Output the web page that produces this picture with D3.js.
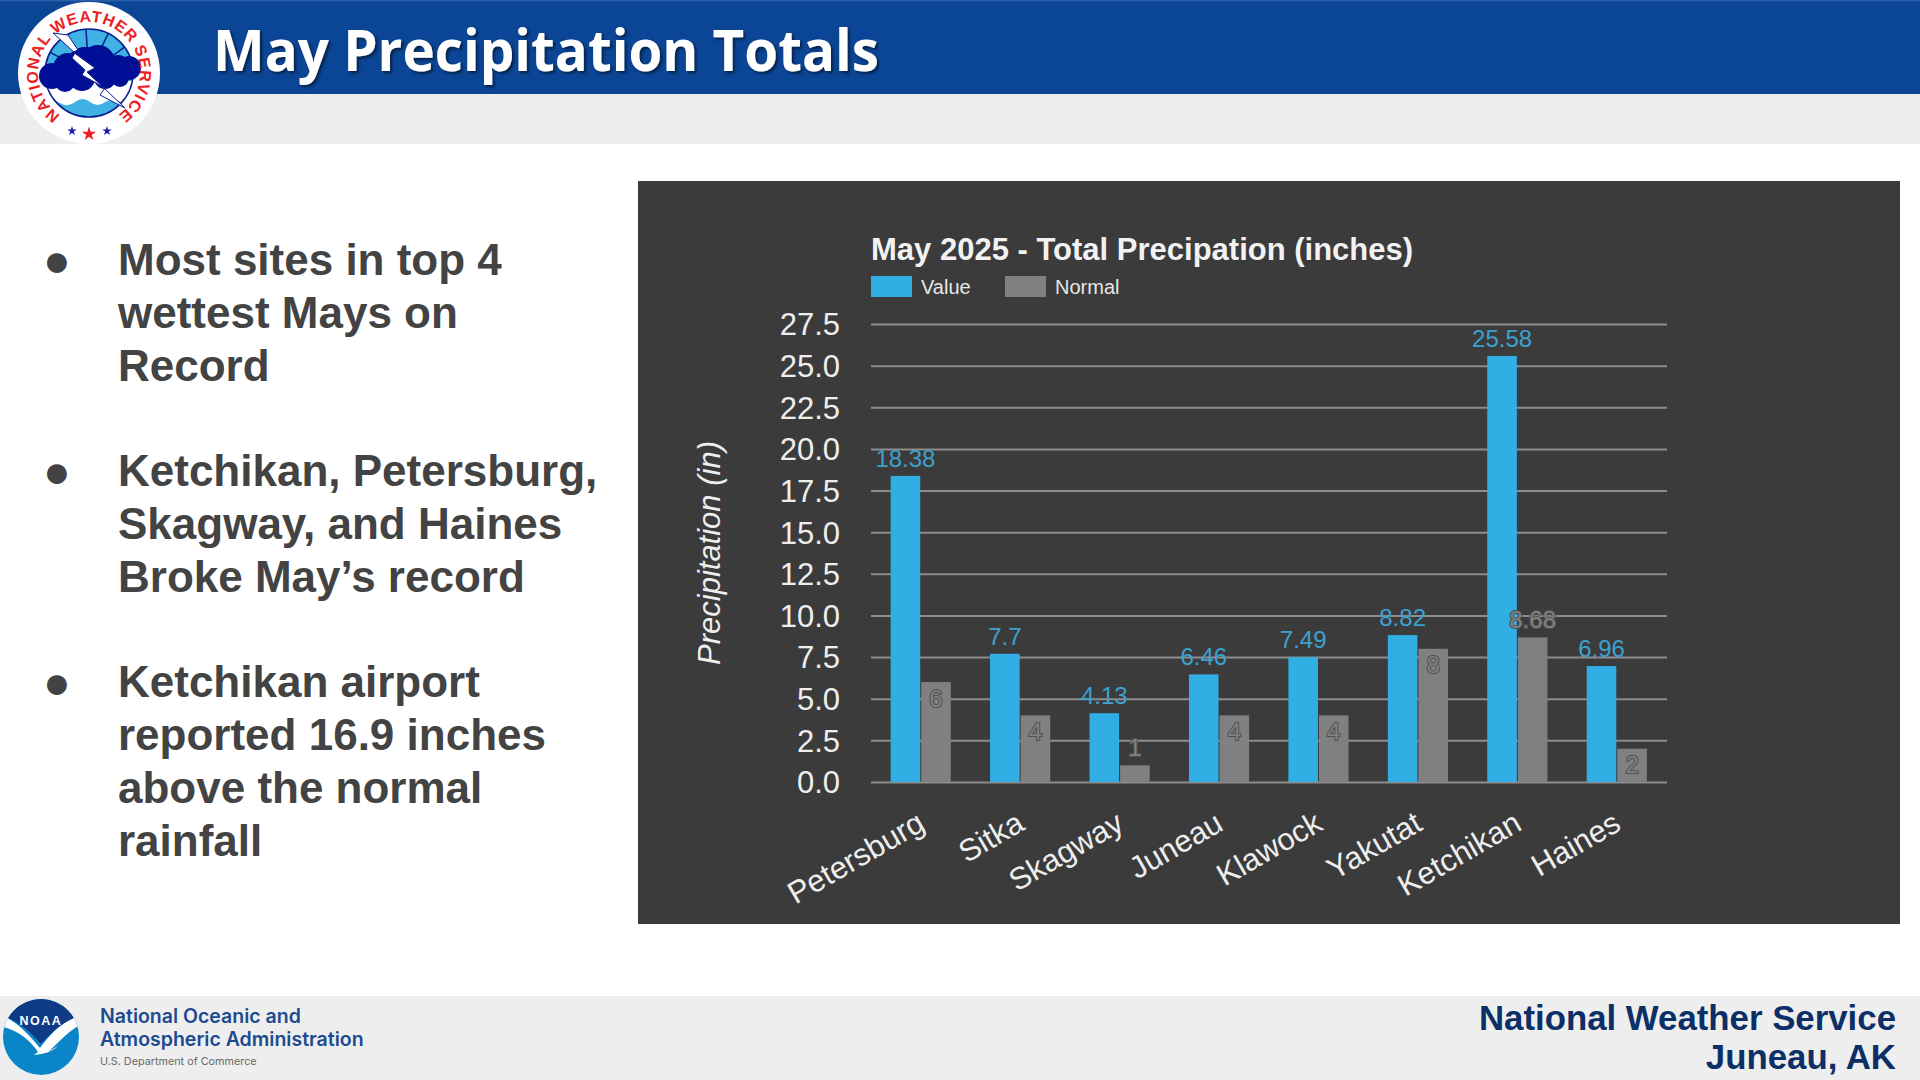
<!DOCTYPE html>
<html>
<head>
<meta charset="utf-8">
<script src="https://cdn.jsdelivr.net/npm/d3@7"></script>
<style>
  html, body { margin: 0; padding: 0; background: #fff; }
  svg { display: block; }
  text { font-family: "Liberation Sans", Arial, sans-serif; }
</style>
</head>
<body>
<div id="slide"></div>
<script>
var categories = ["Petersburg", "Sitka", "Skagway", "Juneau", "Klawock", "Yakutat", "Ketchikan", "Haines"];
var seriesNames = ["Value", "Normal"];
var valueSeries = [18.38, 7.7, 4.13, 6.46, 7.49, 8.82, 25.58, 6.96];
var normalSeries = [6, 4, 1, 4, 4, 8, 8.68, 2];
var yTicks = [0, 2.5, 5, 7.5, 10, 12.5, 15, 17.5, 20, 22.5, 25, 27.5];
var seriesColors = ["#31aee4", "#808080"];
var labelColors = ["#3ba2cf", "#808080"];

var bullets = [
  ["Most sites in top 4", "wettest Mays on", "Record"],
  ["Ketchikan, Petersburg,", "Skagway, and Haines", "Broke May\u2019s record"],
  ["Ketchikan airport", "reported 16.9 inches", "above the normal", "rainfall"]
];
var bulletBaselines = [
  [275, 328, 381],
  [486, 539, 592],
  [697, 750, 803, 856]
];

var W = 1920, H = 1080;
var panelBg = "#3b3b3b";

var svg = d3.select("#slide").append("svg")
  .attr("width", W)
  .attr("height", H);

// shadow for the slide title
var defs = svg.append("defs");
var shadow = defs.append("filter").attr("id", "titleShadow")
  .attr("x", "-5%").attr("y", "-20%").attr("width", "110%").attr("height", "150%");
shadow.append("feDropShadow")
  .attr("dx", 2).attr("dy", 2).attr("stdDeviation", 1.5)
  .attr("flood-color", "#000").attr("flood-opacity", 0.55);

drawHeader();
drawBullets();
drawChart();
drawFooter();

function drawHeader() {
  svg.append("rect").attr("x", 0).attr("y", 94).attr("width", W).attr("height", 50).attr("fill", "#eeeeee");
  svg.append("rect").attr("width", W).attr("height", 94).attr("fill", "#0b4595");
  svg.append("rect").attr("width", W).attr("height", 1.5).attr("fill", "#2a5fa8");

  svg.append("text")
    .attr("x", 213)
    .attr("y", 71)
    .attr("fill", "#fff")
    .attr("filter", "url(#titleShadow)")
    .attr("textLength", 666)
    .attr("lengthAdjust", "spacingAndGlyphs")
    .style("font-family", "'Open Sans'")
    .style("font-weight", 700)
    .style("font-size", "58px")
    .text("May Precipitation Totals");

  drawNwsLogo();
}

function drawNwsLogo() {
  var cx = 89, cy = 73;
  var g = svg.append("g").attr("class", "nws-logo");
  g.append("circle").attr("cx", cx).attr("cy", cy).attr("r", 71).attr("fill", "#fff");

  defs.append("clipPath").attr("id", "nwsInner")
    .append("circle").attr("cx", cx).attr("cy", cy).attr("r", 44);

  var inner = g.append("g").attr("clip-path", "url(#nwsInner)");
  inner.append("rect").attr("x", cx - 45).attr("y", cy - 45).attr("width", 90).attr("height", 90).attr("fill", "#3fb1e3");
  // sun ray dividers
  [-62, -32, -4, 26, 54].forEach(function(a) {
    var r = a * Math.PI / 180;
    inner.append("line")
      .attr("x1", cx).attr("y1", cy)
      .attr("x2", cx + 46 * Math.sin(r)).attr("y2", cy - 46 * Math.cos(r))
      .attr("stroke", "#0a1f8f").attr("stroke-width", 1.5);
  });
  inner.append("rect").attr("x", cx - 45).attr("y", cy + 8).attr("width", 90).attr("height", 40).attr("fill", "#fff");
  inner.append("path")
    .attr("d", "M44,103 q8,-5 16,0 q8,5 15,-1 q8,-6 15,0 q8,6 15,0 q8,-5 16,0 q6,3 14,-1 V120 H44 Z")
    .attr("fill", "#3fb1e3");

  g.append("circle").attr("cx", cx).attr("cy", cy).attr("r", 44)
    .attr("fill", "none").attr("stroke", "#0a1f8f").attr("stroke-width", 1.5);

  // cloud
  var cloud = [[52, 76, 13], [68, 68, 15], [85, 66, 19], [98, 62, 17], [118, 68, 13], [129, 68, 12], [65, 82, 10], [82, 78, 13], [105, 78, 11], [120, 78, 9]];
  g.selectAll(".puff").data(cloud).enter().append("circle")
    .attr("class", "puff")
    .attr("cx", function(d) { return d[0]; })
    .attr("cy", function(d) { return d[1]; })
    .attr("r", function(d) { return d[2]; })
    .attr("fill", "#000f96");

  // lightning bolt
  g.append("path")
    .attr("d", "M53,33 L68,35 L78,50 L73,52 L95,68 L87,72 L125,108 L100,95 L105,88 L82,75 L85,70 L72,58 L75,53 Z")
    .attr("fill", "#fff")
    .attr("stroke", "#0a1f8f")
    .attr("stroke-width", 1);

  // ring lettering
  var rr = 51, th = 20 * Math.PI / 180;
  defs.append("path").attr("id", "nwsRing")
    .attr("d", "M" + (cx - rr * Math.sin(th)) + "," + (cy + rr * Math.cos(th)) +
      " A" + rr + "," + rr + " 0 1 1 " + (cx + rr * Math.sin(th)) + "," + (cy + rr * Math.cos(th)));
  g.append("text")
    .attr("fill", "#ee1c25")
    .style("font-weight", 700)
    .style("font-size", "16px")
    .style("letter-spacing", "0.8px")
    .append("textPath")
    .attr("href", "#nwsRing")
    .attr("startOffset", "50%")
    .attr("text-anchor", "middle")
    .text("NATIONAL WEATHER SERVICE");

  var star = d3.symbol().type(d3.symbolStar);
  [[72, 131, 28, "#1a1fb0"], [89, 134, 62, "#ee1c25"], [107, 131, 28, "#1a1fb0"]].forEach(function(s) {
    g.append("path")
      .attr("d", star.size(s[2])())
      .attr("transform", "translate(" + s[0] + "," + s[1] + ")")
      .attr("fill", s[3]);
  });
}

function drawBullets() {
  var g = svg.append("g").attr("class", "bullets").attr("fill", "#434343");
  bullets.forEach(function(lines, i) {
    g.append("text")
      .attr("x", 57)
      .attr("y", bulletBaselines[i][0] + 1)
      .attr("text-anchor", "middle")
      .style("font-size", "46px")
      .text("\u25CF");
    lines.forEach(function(line, j) {
      g.append("text")
        .attr("x", 118)
        .attr("y", bulletBaselines[i][j])
        .style("font-size", "44px")
        .style("font-weight", 700)
        .text(line);
    });
  });
}

function drawChart() {
  var g = svg.append("g").attr("class", "chart");
  g.append("rect")
    .attr("x", 638).attr("y", 181)
    .attr("width", 1262).attr("height", 743)
    .attr("fill", panelBg);

  var x0 = d3.scaleBand().domain(categories).range([871, 1666.5]).paddingInner(0.385).paddingOuter(0.1925);
  var x1 = d3.scaleBand().domain(seriesNames).range([0, x0.bandwidth()]);
  var y = d3.scaleLinear().domain([0, 27.5]).range([782, 324]);

  // gridlines and y ticks
  var yAxis = d3.axisLeft(y)
    .tickValues(yTicks)
    .tickFormat(d3.format(".1f"))
    .tickSize(-(1667 - 871))
    .tickPadding(31);
  g.append("g")
    .attr("class", "yAxis")
    .attr("transform", "translate(871,0)")
    .call(yAxis)
    .call(function(a) {
      a.select(".domain").remove();
      a.selectAll("line").attr("stroke", "#8d8d8d").attr("stroke-width", 2);
      a.selectAll("text")
        .attr("fill", "#eeeeee")
        .attr("dy", "0.35em")
        .style("font-family", "'Liberation Sans'")
        .style("font-size", "31px");
    });

  // bars
  var rows = categories.map(function(c, i) {
    return { cat: c, vals: [valueSeries[i], normalSeries[i]] };
  });
  var groups = g.selectAll(".group").data(rows).enter().append("g")
    .attr("class", "group")
    .attr("transform", function(d) { return "translate(" + x0(d.cat) + ",0)"; });

  groups.selectAll("rect")
    .data(function(d) { return d.vals.map(function(v, k) { return { v: v, k: k }; }); })
    .enter().append("rect")
    .attr("x", function(d) { return x1(seriesNames[d.k]) + 0.5; })
    .attr("y", function(d) { return y(d.v); })
    .attr("width", x1.bandwidth() - 1)
    .attr("height", function(d) { return y(0) - y(d.v); })
    .attr("fill", function(d) { return seriesColors[d.k]; });

  // value labels, one digit labels sit inside a tall enough bar
  groups.selectAll(".dataLabel")
    .data(function(d) { return d.vals.map(function(v, k) { return { v: v, k: k }; }); })
    .enter().append("text")
    .attr("class", "dataLabel")
    .attr("x", function(d) { return x1(seriesNames[d.k]) + x1.bandwidth() / 2; })
    .attr("y", function(d) {
      var inside = d.k == 1 && d.v >= 2 && String(d.v).length == 1;
      return y(d.v) + (inside ? 24.5 : -9);
    })
    .attr("text-anchor", "middle")
    .attr("fill", function(d) { return labelColors[d.k]; })
    .attr("stroke", function(d) { return d.k == 1 ? "#505050" : "none"; })
    .attr("stroke-width", 2)
    .style("paint-order", "stroke")
    .style("font-size", "24px")
    .text(function(d) { return d.v; });

  // category labels
  var xAxis = d3.axisBottom(x0).tickSize(0).tickPadding(0);
  g.append("g")
    .attr("class", "xAxis")
    .attr("transform", "translate(0,782)")
    .call(xAxis)
    .call(function(a) {
      a.select(".domain").remove();
      a.selectAll("text")
        .attr("fill", "#eeeeee")
        .attr("text-anchor", "end")
        .attr("dy", 0)
        .attr("y", 0)
        .attr("transform", "translate(6,47) rotate(-30)")
        .style("font-family", "'Liberation Sans'")
        .style("font-size", "31px");
    });

  // axis title
  g.append("text")
    .attr("transform", "translate(720,553) rotate(-90)")
    .attr("text-anchor", "middle")
    .attr("fill", "#eeeeee")
    .style("font-size", "31px")
    .style("font-style", "italic")
    .text("Precipitation (in)");

  // chart title
  g.append("text")
    .attr("x", 871)
    .attr("y", 260)
    .attr("fill", "#f2f2f2")
    .style("font-size", "31px")
    .style("font-weight", 700)
    .text("May 2025 - Total Precipation (inches)");

  // legend
  var legendX = [871, 1005];
  var legend = g.selectAll(".legend").data(seriesNames).enter().append("g")
    .attr("class", "legend")
    .attr("transform", function(d, i) { return "translate(" + legendX[i] + ",276)"; });
  legend.append("rect")
    .attr("width", 41).attr("height", 21)
    .attr("fill", function(d, i) { return seriesColors[i]; });
  legend.append("text")
    .attr("x", 50).attr("y", 18)
    .attr("fill", "#e6e6e6")
    .style("font-size", "20px")
    .text(function(d) { return d; });
}

function drawFooter() {
  var g = svg.append("g").attr("class", "footer");
  g.append("rect").attr("y", 996).attr("width", W).attr("height", 84).attr("fill", "#eeeeee");

  // NOAA emblem
  var cx = 41, cy = 1037, r = 38;
  g.append("circle").attr("cx", cx).attr("cy", cy).attr("r", r).attr("fill", "#0a85c8");
  defs.append("clipPath").attr("id", "noaaClip")
    .append("circle").attr("cx", cx).attr("cy", cy).attr("r", r);
  var e = g.append("g").attr("clip-path", "url(#noaaClip)");
  e.append("path")
    .attr("d", "M0,1014 C18,1022 30,1036 40,1048 C50,1034 62,1022 82,1012 L82,1024 C66,1032 56,1046 48,1052 L58,1046 C52,1052 44,1054 34,1055 L38,1052 C30,1040 18,1030 0,1026 Z")
    .attr("fill", "#fff");
  e.append("path")
    .attr("d", "M8,1018 A38,38 0 0 1 74,1018 C60,1024 50,1034 41,1044 C32,1034 22,1024 8,1018 Z")
    .attr("fill", "#0f3a85");
  g.append("text")
    .attr("x", cx).attr("y", 1025)
    .attr("text-anchor", "middle")
    .attr("fill", "#fff")
    .style("font-weight", 700)
    .style("font-size", "12.5px")
    .style("letter-spacing", "1.5px")
    .text("NOAA");

  var orgFont = "Inter";
  g.append("text").attr("x", 100).attr("y", 1023).attr("fill", "#1c4a8f")
    .style("font-family", orgFont).style("font-weight", 600).style("font-size", "19.5px")
    .text("National Oceanic and");
  g.append("text").attr("x", 100).attr("y", 1046).attr("fill", "#1c4a8f")
    .style("font-family", orgFont).style("font-weight", 600).style("font-size", "19.5px")
    .text("Atmospheric Administration");
  g.append("text").attr("x", 100).attr("y", 1065).attr("fill", "#6a6a6a")
    .style("font-family", orgFont).style("font-size", "10.8px")
    .text("U.S. Department of Commerce");

  g.append("text").attr("x", 1896).attr("y", 1030).attr("text-anchor", "end").attr("fill", "#0b2f66")
    .style("font-weight", 700).style("font-size", "34.8px")
    .text("National Weather Service");
  g.append("text").attr("x", 1896).attr("y", 1069).attr("text-anchor", "end").attr("fill", "#0b2f66")
    .style("font-weight", 700).style("font-size", "34.8px")
    .text("Juneau, AK");
}
</script>
</body>
</html>
